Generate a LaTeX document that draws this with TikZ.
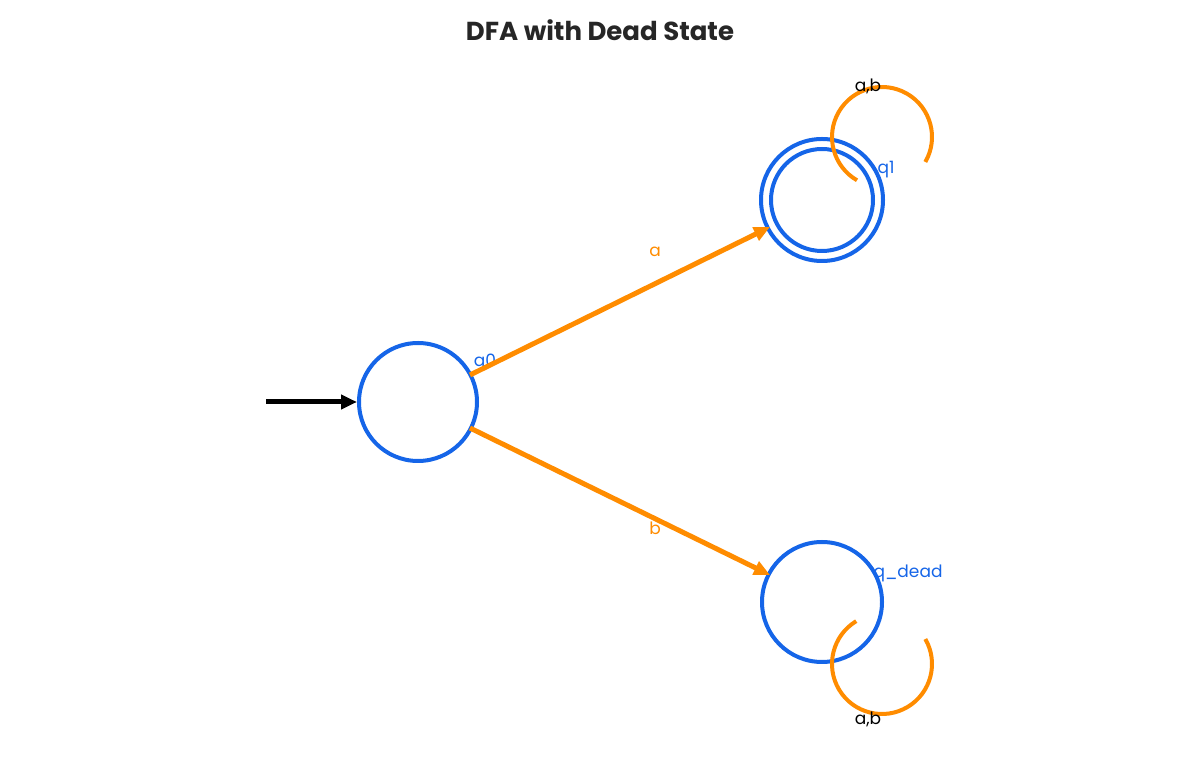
\documentclass[tikz,border=0pt]{standalone}
\usepackage{fontspec}
\setmainfont{Poppins}
\usetikzlibrary{arrows.meta}
\definecolor{sblue}{HTML}{1565E8}
\definecolor{sorange}{HTML}{FF8C00}
\begin{document}
\begin{tikzpicture}[x=1pt,y=1pt,
  state/.style={circle,draw=sblue,line width=4pt,minimum size=118pt,inner sep=0pt},
  edge/.style={draw=sorange,line width=5pt,-{Triangle[length=16pt,width=14pt]}},
  loopline/.style={draw=sorange,line width=4pt},
  lbl/.style={font=\fontsize{17}{20}\selectfont}]
\useasboundingbox (0,0) rectangle (1200,763);
\node[font=\fontsize{26}{30}\selectfont\bfseries,text=black!85] (title) at (600,733) {DFA with Dead State};
\node[state] (q0) at (418,361) {};
\node[state,minimum size=122pt] (q1) at (822,563) {};
\node[circle,draw=sblue,line width=4pt,minimum size=102pt] (q1i) at (822,563) {};
\node[state,minimum size=120pt] (qd) at (822,161) {};
\node[lbl,text=sblue] (l0) at (485,401) {q0};
\node[lbl,text=sblue] (l1) at (886,593) {q1};
\node[lbl,text=sblue] (ld) at (908,190) {q\_dead};
\coordinate (s) at (266,361);
\draw[line width=5pt,-{Triangle[length=16pt,width=14pt]}] (s) -- (q0.west);
\coordinate (a0) at (470,388);
\coordinate (a1) at (770,536);
\coordinate (b0) at (470,335);
\coordinate (b1) at (770,188);
\draw[edge] (a0) -- (a1);
\draw[edge] (b0) -- (b1);
\node[lbl,text=sorange] (la) at (655,511) {a};
\node[lbl,text=sorange] (lb) at (655,235) {b};
\coordinate (c1) at (882,626);
\draw[loopline] (c1) ++(240:50) arc[start angle=240,end angle=-30,radius=50];
\coordinate (c2) at (882,99);
\draw[loopline] (c2) ++(121:50) arc[start angle=121,end angle=390,radius=50];
\node[lbl] (ab1) at (868,677) {a,b};
\node[lbl] (ab2) at (868,44) {a,b};
\end{tikzpicture}
\end{document}
